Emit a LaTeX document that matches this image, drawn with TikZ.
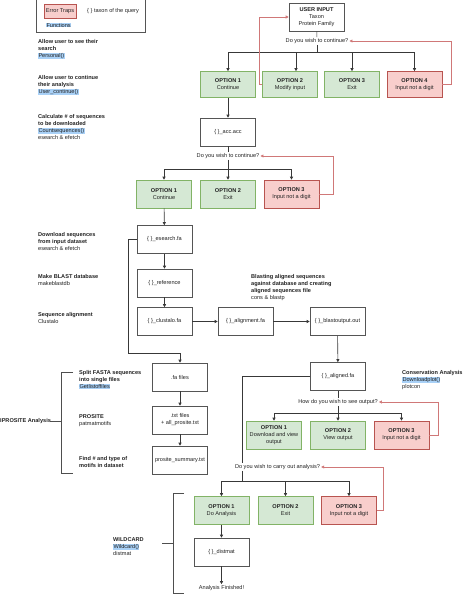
\documentclass[tikz,border=0pt]{standalone}
\usepackage{fontspec}
\setmainfont{Liberation Sans}
\usetikzlibrary{arrows.meta}
\definecolor{gfill}{HTML}{D5E8D4}
\definecolor{gdraw}{HTML}{82B366}
\definecolor{rfill}{HTML}{F8CECC}
\definecolor{rdraw}{HTML}{B85450}
\definecolor{rline}{HTML}{D07878}
\definecolor{hlc}{HTML}{A9D1F7}
\definecolor{ink}{HTML}{222222}
\definecolor{bord}{HTML}{555555}
\newcommand\fsz{\fontsize{5.6}{7}\selectfont}
\newcommand\hlt[1]{{\setlength{\fboxsep}{0.3pt}\colorbox{hlc}{#1}}}
\begin{document}
\begin{tikzpicture}[x=1pt,y=-1pt,
 every node/.style={font=\fsz, text=ink},
 box/.style={draw=bord, fill=white, line width=0.6pt, minimum width=55pt, minimum height=28pt, align=center, inner sep=1pt},
 gbox/.style={box, fill=gfill, draw=gdraw},
 rbox/.style={box, fill=rfill, draw=rdraw},
 lab/.style={anchor=north west, align=left, inner sep=0pt},
 qlab/.style={fill=white, inner sep=1pt},
 arr/.style={draw=ink!90, line width=0.6pt, -{Triangle[length=3pt,width=3pt]}},
 ln/.style={draw=ink!90, line width=0.6pt},
 rarr/.style={draw=rline, line width=0.6pt, -{Triangle[length=3pt,width=3pt]}},
 brk/.style={draw=ink!80, line width=1pt},
]
\useasboundingbox (0,0) rectangle (474,594);
\clip (0,0) rectangle (474,594);

% legend
\node[draw=bord, line width=0.6pt, minimum width=109pt, minimum height=36pt, inner sep=0pt] (legend) at (90.5,14) {};
\node[rbox, minimum width=32pt, minimum height=14pt] (err) at (60,11) {Error Traps};
\node (tax) at (113,11) {\{ \} taxon of the query};
\node[anchor=west, inner sep=0pt] (fun) at (46,25) {\hlt{Functions}};

% left labels
\node[lab] (l1) at (38,39) {\bfseries Allow user to see their\\\bfseries search\\\hlt{Personal()}};
\node[lab] (l2) at (38,75) {\bfseries Allow user to continue\\\bfseries their analysis\\\hlt{User\_continue()}};
\node[lab] (l3) at (38,114) {\bfseries Calculate \# of sequences\\\bfseries to be downloaded\\\hlt{Countsequences()}\\esearch \& efetch};
\node[lab] (l4) at (38,232) {\bfseries Download sequences\\\bfseries from input dataset\\esearch \& efetch};
\node[lab] (l5) at (38,274) {\bfseries Make BLAST database\\makeblastdb};
\node[lab] (l6) at (38,312) {\bfseries Sequence alignment\\Clustalo};
\node[lab] (l7) at (251,274) {\bfseries Blasting aligned sequences\\\bfseries against database and creating\\\bfseries aligned sequences file\\cons \& blastp};
\node[lab] (l8) at (402,370) {\bfseries Conservation Analysis\\\hlt{Downloadplot()}\\plotcon};
\node[lab] (l9) at (79,370) {\bfseries Split FASTA sequences\\\bfseries into single files\\\hlt{Getlistoffiles}};
\node[lab] (l10) at (79,414) {\bfseries PROSITE\\patmatmotifs};
\node[lab] (l11) at (79,456) {\bfseries Find \# and type of\\\bfseries motifs in dataset};
\node[lab] (l12) at (113,537) {\bfseries WILDCARD\\\hlt{Wildcard()}\\distmat};
\node[anchor=west, inner sep=0pt] (pros) at (0,421) {\bfseries IPROSITE Analysis};

% brackets
\draw[brk] (73,372) -- (61,372) -- (61,473) -- (73,473);
\draw[brk] (50,421) -- (61,421);
\draw[brk] (184,493) -- (173,493) -- (173,593) -- (184,593);
\draw[brk] (162,543) -- (173,543);

% stage 1
\node[box] (user) at (316.5,17) {\bfseries USER INPUT\\Taxon\\Protein Family};
\node[qlab] (q1) at (317,41) {Do you wish to continue?};
\node[gbox, minimum height=26pt] (o1a) at (228,84.5) {\bfseries OPTION 1\\Continue};
\node[gbox, minimum height=26pt] (o2a) at (290,84.5) {\bfseries OPTION 2\\Modify input};
\node[gbox, minimum height=26pt] (o3a) at (352,84.5) {\bfseries OPTION 3\\Exit};
\node[rbox, minimum height=26pt] (o4a) at (414.5,84.5) {\bfseries OPTION 4\\Input not a digit};
\coordinate (b1) at (317,52);
\draw[ln] (user) -- (q1);
\draw[ln] (q1) -- (b1);
\draw[arr] (b1) -| (o1a);
\draw[arr] (b1) -| ([xshift=6pt]o2a.north);
\draw[arr] (b1) -| (o3a);
\draw[arr] (b1) -| (o4a);
\draw[rarr] (o2a.west) -- ++(-3,0) |- (user.west);
\draw[rarr] (o4a.east) -- ++(9,0) |- (q1.east);

% stage 2
\node[box] (acc) at (228,132) {\{ \}\_acc.acc};
\node[qlab] (q2) at (228,156) {Do you wish to continue?};
\node[gbox] (o1b) at (164,194) {\bfseries OPTION 1\\Continue};
\node[gbox] (o2b) at (228,194) {\bfseries OPTION 2\\Exit};
\node[rbox] (o3b) at (291.5,194) {\bfseries OPTION 3\\Input not a digit};
\coordinate (b2) at (228,169);
\draw[arr] (o1a) -- (acc);
\draw[ln] (acc) -- (q2);
\draw[ln] (q2) -- (b2);
\draw[arr] (b2) -| (o1b);
\draw[arr] (b2) -- (o2b);
\draw[arr] (b2) -| (o3b);
\draw[rarr] (o3b.east) -- ++(14,0) |- (q2.east);

% stage 3
\node[box] (es) at (164.5,239.5) {\{ \}\_esearch.fa};
\node[box] (ref) at (164.5,283) {\{ \}\_reference};
\node[box] (clu) at (164.5,321.5) {\{ \}\_clustalo.fa};
\node[box] (ali) at (245.5,321.5) {\{ \}\_alignment.fa};
\node[box] (bla) at (337.5,321.5) {\{ \}\_blastoutput.out};
\draw[arr] (o1b) -- (es);
\draw[arr] (es) -- (ref);
\draw[arr] (ref) -- (clu);
\draw[arr] (clu) -- (ali);
\draw[arr] (ali) -- (bla);

% prosite
\node[box] (fa) at (180,377) {.fa files};
\node[box] (txt) at (180,420) {.txt files\\+ all\_prosite.txt};
\node[box] (sum) at (180,460) {prosite\_summary.txt};
\coordinate (c1) at (128,353);
\draw[arr] (es.west) -| (c1) -| (fa);
\draw[arr] (fa) -- (txt);
\draw[arr] (txt) -- (sum);

% conservation
\node[box] (aln) at (338,376.5) {\{ \}\_aligned.fa};
\node[qlab] (q3) at (338,402) {How do you wish to see output?};
\node[gbox] (o1c) at (274,435) {\bfseries OPTION 1\\Download and view\\output};
\node[gbox] (o2c) at (338,435) {\bfseries OPTION 2\\View output};
\node[rbox] (o3c) at (401.5,435) {\bfseries OPTION 3\\Input not a digit};
\coordinate (b3) at (338,413);
\draw[arr] (bla) -- (aln);
\draw[ln] (aln) -- (q3);
\draw[ln] (q3) -- (b3);
\draw[arr] (b3) -| (o1c);
\draw[arr] (b3) -- (o2c);
\draw[arr] (b3) -| (o3c);
\draw[rarr] (o3c.east) -- ++(9,0) |- (q3.east);

% wildcard
\node[qlab] (q4) at (277.5,467) {Do you wish to carry out analysis?};
\node[gbox] (o1d) at (221.5,510.5) {\bfseries OPTION 1\\Do Analysis};
\node[gbox] (o2d) at (285.5,510.5) {\bfseries OPTION 2\\Exit};
\node[rbox] (o3d) at (349,510.5) {\bfseries OPTION 3\\Input not a digit};
\node[box] (dist) at (221.5,552) {\{ \}\_distmat};
\node[inner sep=1pt] (fin) at (221.5,588) {Analysis Finished!};
\coordinate (b4) at (242,481);
\draw[ln] (aln.west) -| (b4 |- q4.north);
\draw[ln] (b4 |- q4.south) -- (b4);
\draw[arr] (b4) -| (o1d);
\draw[arr] (b4) -| (o2d);
\draw[arr] (b4) -| (o3d);
\draw[rarr] (o3d.east) -- ++(6,0) |- (q4.east);
\draw[arr] (o1d) -- (dist);
\draw[arr] (dist) -- (fin);
\end{tikzpicture}
\end{document}
